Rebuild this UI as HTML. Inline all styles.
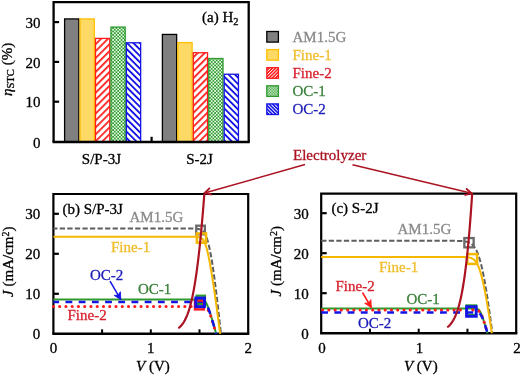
<!DOCTYPE html>
<html><head><meta charset="utf-8"><title>Figure</title>
<style>html,body{margin:0;padding:0;background:#fff;width:520px;height:376px;overflow:hidden} svg{display:block} text{stroke-width:0.3px}</style>
</head><body>
<svg width="520" height="376" viewBox="0 0 520 376">

<defs>
<pattern id="pr" patternUnits="userSpaceOnUse" width="4.9" height="4.9" patternTransform="rotate(45)">
 <rect width="4.9" height="4.9" fill="#fff"/><rect width="1.75" height="4.9" fill="#FF1A1A"/>
</pattern>
<pattern id="pb" patternUnits="userSpaceOnUse" width="4.5" height="4.5" patternTransform="rotate(-45)">
 <rect width="4.5" height="4.5" fill="#fff"/><rect width="1.85" height="4.5" fill="#1414E6"/>
</pattern>
<pattern id="pg" patternUnits="userSpaceOnUse" width="3.4" height="3.4">
 <rect width="3.4" height="3.4" fill="#e6fae6"/><rect width="1.7" height="1.7" fill="#2E9A2E"/><rect x="1.7" y="1.7" width="1.7" height="1.7" fill="#2E9A2E"/>
</pattern>
<pattern id="prl" patternUnits="userSpaceOnUse" width="2.3" height="2.3" patternTransform="rotate(45)">
 <rect width="2.3" height="2.3" fill="#FF1A1A"/><rect width="0.8" height="2.3" fill="#fff"/>
</pattern>
<pattern id="pbl" patternUnits="userSpaceOnUse" width="2.5" height="2.5" patternTransform="rotate(-45)">
 <rect width="2.5" height="2.5" fill="#1414E6"/><rect width="0.9" height="2.5" fill="#fff"/>
</pattern>
<pattern id="pgl" patternUnits="userSpaceOnUse" width="2.7" height="2.7">
 <rect width="2.7" height="2.7" fill="#e6fae6"/><rect width="1.35" height="1.35" fill="#2E9A2E"/><rect x="1.35" y="1.35" width="1.35" height="1.35" fill="#2E9A2E"/>
</pattern>
<marker id="ah" viewBox="-8 -5 9 10" refX="0" refY="0" markerWidth="9" markerHeight="10" orient="auto" markerUnits="userSpaceOnUse">
 <path d="M-6.5,-3.4 L0,0 L-6.5,3.4" fill="none" stroke="#AC1322" stroke-width="1.8" stroke-linejoin="miter"/>
</marker>
<marker id="ahb" viewBox="-8 -5 9 10" refX="0" refY="0" markerWidth="9" markerHeight="10" orient="auto" markerUnits="userSpaceOnUse">
 <path d="M-7,-3.6 L0,0 L-7,3.6 L-5.2,0 z" fill="#1414E6" stroke="#1414E6" stroke-width="0.8" stroke-linejoin="miter"/>
</marker>
<marker id="ahr" viewBox="-8 -5 9 10" refX="0" refY="0" markerWidth="9" markerHeight="10" orient="auto" markerUnits="userSpaceOnUse">
 <path d="M-7,-3.6 L0,0 L-7,3.6 L-5.2,0 z" fill="#FF1A1A" stroke="#FF1A1A" stroke-width="0.8" stroke-linejoin="miter"/>
</marker>
</defs>
<rect x="64.6" y="18.92" width="14.25" height="123.08" fill="#808080" stroke="#000" stroke-width="1.3"/>
<rect x="80.05" y="18.92" width="14.25" height="123.08" fill="#FFD966" stroke="#FFC000" stroke-width="1.3"/>
<rect x="95.5" y="38.42" width="14.25" height="103.58" fill="url(#pr)" stroke="#FF1A1A" stroke-width="1.3"/>
<rect x="110.95" y="27.08" width="14.25" height="114.92" fill="url(#pg)" stroke="#2E9A2E" stroke-width="1.3"/>
<rect x="126.4" y="42.8" width="14.25" height="99.2" fill="url(#pb)" stroke="#1414E6" stroke-width="1.3"/>
<rect x="162.4" y="34.44" width="14.25" height="107.56" fill="#808080" stroke="#000" stroke-width="1.3"/>
<rect x="177.85" y="42.6" width="14.25" height="99.4" fill="#FFD966" stroke="#FFC000" stroke-width="1.3"/>
<rect x="193.3" y="52.75" width="14.25" height="89.25" fill="url(#pr)" stroke="#FF1A1A" stroke-width="1.3"/>
<rect x="208.75" y="58.52" width="14.25" height="83.48" fill="url(#pg)" stroke="#2E9A2E" stroke-width="1.3"/>
<rect x="224.2" y="74.24" width="14.25" height="67.76" fill="url(#pb)" stroke="#1414E6" stroke-width="1.3"/>
<path d="M53.6,142.0 V2.1 H248.7 V142.0" fill="none" stroke="#000" stroke-width="2.3"/>
<path d="M52.5,142.0 H249.79999999999998" stroke="#000" stroke-width="2.4"/>
<path d="M53.6,101.7 h5.5" stroke="#000" stroke-width="2.2"/>
<path d="M53.6,61.9 h5.5" stroke="#000" stroke-width="2.2"/>
<path d="M53.6,22.1 h5.5" stroke="#000" stroke-width="2.2"/>
<path d="M151.6,142.0 v-5.2" stroke="#000" stroke-width="2.2"/>
<text x="40.4" y="147.6" text-anchor="end" style="font-family:'Liberation Serif','Times New Roman',serif;font-size:15px" stroke="#000">0</text>
<text x="40.4" y="107.4" text-anchor="end" style="font-family:'Liberation Serif','Times New Roman',serif;font-size:15px" stroke="#000">10</text>
<text x="40.4" y="67.6" text-anchor="end" style="font-family:'Liberation Serif','Times New Roman',serif;font-size:15px" stroke="#000">20</text>
<text x="40.4" y="27.8" text-anchor="end" style="font-family:'Liberation Serif','Times New Roman',serif;font-size:15px" stroke="#000">30</text>
<text x="101.4" y="164.4" text-anchor="middle" style="font-family:'Liberation Serif','Times New Roman',serif;font-size:15px" stroke="#000">S/P-3J</text>
<text x="199.5" y="164.4" text-anchor="middle" style="font-family:'Liberation Serif','Times New Roman',serif;font-size:15px" stroke="#000">S-2J</text>
<text x="202" y="21.6" style="font-family:'Liberation Serif','Times New Roman',serif;font-size:15px" stroke="#000">(a) H<tspan dy="3" font-size="10.5px">2</tspan></text>
<text transform="translate(11.6,96) rotate(-90)" style="font-family:'Liberation Serif','Times New Roman',serif;font-size:15px" stroke="#000"><tspan font-style="italic">η</tspan><tspan dy="2" font-size="10.6px">STC</tspan><tspan dy="-2"> (%)</tspan></text>
<rect x="266.8" y="31.5" width="11.6" height="10.6" fill="#808080" stroke="#000" stroke-width="1.3"/>
<text x="292.5" y="41.7" fill="#8a8a8a" style="font-family:'Liberation Serif','Times New Roman',serif;font-size:15px" stroke="#8a8a8a">AM1.5G</text>
<rect x="266.8" y="49.6" width="11.6" height="10.6" fill="#FFD966" stroke="#FFC000" stroke-width="1.3"/>
<text x="292.5" y="59.8" fill="#F0BC28" style="font-family:'Liberation Serif','Times New Roman',serif;font-size:15px" stroke="#F0BC28">Fine-1</text>
<rect x="266.8" y="67.7" width="11.6" height="10.6" fill="url(#prl)" stroke="#FF1A1A" stroke-width="1.3"/>
<text x="292.5" y="77.9" fill="#D81E2C" style="font-family:'Liberation Serif','Times New Roman',serif;font-size:15px" stroke="#D81E2C">Fine-2</text>
<rect x="266.8" y="85.8" width="11.6" height="10.6" fill="url(#pgl)" stroke="#2E9A2E" stroke-width="1.3"/>
<text x="292.5" y="96" fill="#3A803A" style="font-family:'Liberation Serif','Times New Roman',serif;font-size:15px" stroke="#3A803A">OC-1</text>
<rect x="266.8" y="103.9" width="11.6" height="10.6" fill="url(#pbl)" stroke="#1414E6" stroke-width="1.3"/>
<text x="292.5" y="114.1" fill="#1C1CB8" style="font-family:'Liberation Serif','Times New Roman',serif;font-size:15px" stroke="#1C1CB8">OC-2</text>
<text x="293" y="160" fill="#AC1322" style="font-family:'Liberation Serif','Times New Roman',serif;font-size:15px" stroke="#AC1322">Electrolyzer</text>
<clipPath id="clipb"><rect x="53.4" y="194.0" width="194.8" height="139.8"/></clipPath>
<path d="M53.4,333.8 V194.0 H248.2 V333.8" fill="none" stroke="#000" stroke-width="2.2"/>
<path d="M52.3,333.8 H249.29999999999998" stroke="#000" stroke-width="2.6"/>
<path d="M53.4,293.8 h5.5" stroke="#000" stroke-width="2.2"/>
<path d="M53.4,253.8 h5.5" stroke="#000" stroke-width="2.2"/>
<path d="M53.4,213.8 h5.5" stroke="#000" stroke-width="2.2"/>
<path d="M102.1,333.8 v-4.5" stroke="#000" stroke-width="2"/>
<path d="M150.8,333.8 v-4.5" stroke="#000" stroke-width="2"/>
<path d="M199.5,333.8 v-4.5" stroke="#000" stroke-width="2"/>
<path d="M53.4,228.4 L187.91,228.41 L188.12,228.41 L188.32,228.42 L188.53,228.42 L188.73,228.42 L188.94,228.42 L189.14,228.42 L189.35,228.42 L189.55,228.42 L189.76,228.43 L189.96,228.43 L190.17,228.43 L190.37,228.43 L190.58,228.43 L190.78,228.44 L190.99,228.44 L191.19,228.44 L191.39,228.45 L191.6,228.45 L191.8,228.45 L192.01,228.46 L192.21,228.46 L192.42,228.47 L192.62,228.47 L192.83,228.48 L193.03,228.48 L193.24,228.49 L193.44,228.5 L193.65,228.51 L193.85,228.51 L194.06,228.52 L194.27,228.53 L194.47,228.54 L194.68,228.55 L194.88,228.57 L195.09,228.58 L195.29,228.59 L195.5,228.61 L195.7,228.62 L195.91,228.64 L196.12,228.66 L196.32,228.68 L196.53,228.7 L196.74,228.73 L196.94,228.75 L197.15,228.78 L197.36,228.81 L197.56,228.84 L197.77,228.88 L197.98,228.91 L198.19,228.95 L198.39,229 L198.6,229.04 L198.81,229.09 L199.02,229.15 L199.23,229.2 L199.44,229.27 L199.65,229.33 L199.86,229.41 L200.07,229.49 L200.28,229.57 L200.49,229.66 L200.7,229.76 L200.92,229.87 L201.13,229.98 L201.35,230.1 L201.56,230.24 L201.78,230.38 L201.99,230.53 L202.21,230.7 L202.43,230.88 L202.65,231.07 L202.87,231.28 L203.09,231.5 L203.32,231.75 L203.54,232.01 L203.77,232.29 L204,232.59 L204.23,232.92 L204.46,233.27 L204.7,233.65 L204.94,234.06 L205.18,234.5 L205.42,234.97 L205.66,235.48 L205.91,236.04 L206.17,236.63 L206.42,237.27 L206.68,237.96 L206.95,238.71 L207.22,239.51 L207.49,240.37 L207.77,241.31 L208.05,242.31 L208.35,243.4 L208.64,244.56 L208.95,245.82 L209.26,247.18 L209.59,248.64 L209.92,250.22 L210.26,251.92 L210.61,253.75 L210.97,255.72 L211.35,257.85 L211.74,260.15 L212.14,262.62 L212.56,265.28 L212.99,268.16 L213.45,271.25 L213.92,274.59 L214.41,278.19 L214.93,282.07 L215.47,286.24 L216.04,290.75 L216.63,295.61 L217.26,300.84 L217.91,306.48 L218.61,312.56 L219.34,319.12 L220.11,326.18 L220.93,333.8" fill="none" stroke="#5e5e5e" stroke-width="2.0" stroke-dasharray="5.3,2.25" stroke-dashoffset="1.2" stroke-linecap="butt"/>
<path d="M53.4,236.8 L191.99,236.81 L192.14,236.81 L192.28,236.81 L192.43,236.81 L192.57,236.82 L192.72,236.82 L192.87,236.82 L193.01,236.82 L193.16,236.82 L193.31,236.82 L193.45,236.83 L193.6,236.83 L193.74,236.83 L193.89,236.83 L194.04,236.83 L194.18,236.84 L194.33,236.84 L194.48,236.84 L194.62,236.85 L194.77,236.85 L194.92,236.85 L195.06,236.86 L195.21,236.86 L195.36,236.87 L195.5,236.87 L195.65,236.88 L195.8,236.88 L195.94,236.89 L196.09,236.9 L196.24,236.91 L196.38,236.91 L196.53,236.92 L196.68,236.93 L196.82,236.94 L196.97,236.95 L197.12,236.97 L197.27,236.98 L197.41,236.99 L197.56,237.01 L197.71,237.02 L197.86,237.04 L198.01,237.06 L198.15,237.08 L198.3,237.1 L198.45,237.12 L198.6,237.15 L198.75,237.18 L198.9,237.21 L199.05,237.24 L199.2,237.27 L199.35,237.31 L199.5,237.35 L199.65,237.39 L199.8,237.44 L199.95,237.49 L200.1,237.54 L200.26,237.6 L200.41,237.66 L200.56,237.73 L200.72,237.8 L200.87,237.88 L201.03,237.96 L201.18,238.05 L201.34,238.15 L201.5,238.25 L201.66,238.37 L201.82,238.49 L201.98,238.62 L202.14,238.76 L202.3,238.92 L202.46,239.08 L202.63,239.26 L202.8,239.45 L202.97,239.66 L203.14,239.88 L203.31,240.12 L203.48,240.38 L203.66,240.66 L203.84,240.96 L204.02,241.28 L204.21,241.63 L204.39,242.01 L204.58,242.41 L204.78,242.85 L204.97,243.32 L205.18,243.83 L205.38,244.37 L205.59,244.96 L205.81,245.6 L206.03,246.28 L206.26,247.02 L206.49,247.82 L206.73,248.68 L206.98,249.6 L207.23,250.6 L207.5,251.68 L207.77,252.83 L208.05,254.08 L208.35,255.43 L208.65,256.88 L208.97,258.44 L209.3,260.13 L209.65,261.95 L210.01,263.9 L210.38,266.02 L210.78,268.29 L211.19,270.74 L211.63,273.39 L212.09,276.24 L212.57,279.31 L213.08,282.62 L213.62,286.19 L214.18,290.03 L214.78,294.18 L215.42,298.65 L216.09,303.47 L216.81,308.66 L217.57,314.26 L218.38,320.29 L219.23,326.79 L220.15,333.8" fill="none" stroke="#F5B800" stroke-width="2.0" stroke-linecap="butt"/>
<path d="M53.4,299.48 L198.16,299.48 L198.24,299.48 L198.32,299.48 L198.4,299.49 L198.48,299.49 L198.56,299.49 L198.64,299.49 L198.72,299.49 L198.8,299.49 L198.88,299.49 L198.96,299.49 L199.04,299.49 L199.12,299.49 L199.2,299.49 L199.28,299.49 L199.36,299.49 L199.44,299.49 L199.53,299.5 L199.61,299.5 L199.69,299.5 L199.77,299.5 L199.85,299.5 L199.93,299.5 L200.01,299.5 L200.09,299.51 L200.17,299.51 L200.25,299.51 L200.33,299.51 L200.41,299.51 L200.5,299.52 L200.58,299.52 L200.66,299.52 L200.74,299.53 L200.82,299.53 L200.9,299.53 L200.98,299.54 L201.06,299.54 L201.15,299.55 L201.23,299.55 L201.31,299.56 L201.39,299.57 L201.47,299.57 L201.55,299.58 L201.64,299.59 L201.72,299.59 L201.8,299.6 L201.88,299.61 L201.97,299.62 L202.05,299.64 L202.13,299.65 L202.22,299.66 L202.3,299.67 L202.39,299.69 L202.47,299.71 L202.55,299.72 L202.64,299.74 L202.72,299.76 L202.81,299.78 L202.9,299.81 L202.98,299.83 L203.07,299.86 L203.16,299.89 L203.25,299.92 L203.33,299.96 L203.42,299.99 L203.51,300.03 L203.6,300.08 L203.7,300.12 L203.79,300.17 L203.88,300.23 L203.98,300.29 L204.07,300.35 L204.17,300.42 L204.27,300.49 L204.37,300.57 L204.47,300.65 L204.57,300.75 L204.68,300.84 L204.78,300.95 L204.89,301.07 L205,301.19 L205.11,301.32 L205.23,301.47 L205.35,301.62 L205.47,301.79 L205.59,301.97 L205.72,302.16 L205.85,302.37 L205.99,302.59 L206.12,302.84 L206.27,303.1 L206.42,303.38 L206.57,303.68 L206.73,304.01 L206.9,304.36 L207.07,304.74 L207.25,305.15 L207.44,305.59 L207.64,306.07 L207.84,306.58 L208.06,307.14 L208.28,307.73 L208.52,308.38 L208.77,309.07 L209.03,309.82 L209.31,310.62 L209.6,311.49 L209.91,312.43 L210.23,313.43 L210.58,314.52 L210.94,315.69 L211.33,316.95 L211.74,318.32 L212.18,319.78 L212.64,321.36 L213.14,323.07 L213.67,324.9 L214.23,326.89 L214.83,329.02 L215.47,331.32 L216.16,333.8" fill="none" stroke="#2E9A2E" stroke-width="2.0" stroke-linecap="butt"/>
<path d="M53.4,306.48 L199.86,306.48 L199.94,306.48 L200.02,306.48 L200.1,306.48 L200.18,306.48 L200.26,306.48 L200.34,306.49 L200.42,306.49 L200.5,306.49 L200.59,306.49 L200.67,306.49 L200.75,306.49 L200.83,306.49 L200.91,306.49 L200.99,306.49 L201.07,306.49 L201.15,306.49 L201.23,306.49 L201.31,306.49 L201.39,306.49 L201.47,306.5 L201.55,306.5 L201.63,306.5 L201.71,306.5 L201.79,306.5 L201.87,306.5 L201.96,306.5 L202.04,306.51 L202.12,306.51 L202.2,306.51 L202.28,306.51 L202.36,306.51 L202.44,306.52 L202.52,306.52 L202.6,306.52 L202.68,306.53 L202.77,306.53 L202.85,306.53 L202.93,306.54 L203.01,306.54 L203.09,306.55 L203.17,306.55 L203.25,306.56 L203.34,306.56 L203.42,306.57 L203.5,306.58 L203.58,306.59 L203.66,306.59 L203.75,306.6 L203.83,306.61 L203.91,306.62 L204,306.63 L204.08,306.65 L204.16,306.66 L204.25,306.67 L204.33,306.69 L204.42,306.7 L204.5,306.72 L204.58,306.74 L204.67,306.76 L204.76,306.78 L204.84,306.81 L204.93,306.83 L205.02,306.86 L205.1,306.89 L205.19,306.92 L205.28,306.96 L205.37,306.99 L205.46,307.03 L205.55,307.08 L205.64,307.12 L205.73,307.17 L205.83,307.23 L205.92,307.28 L206.02,307.35 L206.11,307.41 L206.21,307.49 L206.31,307.57 L206.41,307.65 L206.52,307.74 L206.62,307.84 L206.73,307.95 L206.83,308.06 L206.94,308.18 L207.06,308.32 L207.17,308.46 L207.29,308.61 L207.41,308.78 L207.54,308.96 L207.66,309.15 L207.79,309.36 L207.93,309.58 L208.07,309.83 L208.21,310.09 L208.36,310.37 L208.51,310.67 L208.67,311 L208.84,311.35 L209.01,311.73 L209.19,312.14 L209.38,312.58 L209.58,313.05 L209.78,313.56 L210,314.11 L210.22,314.71 L210.46,315.35 L210.71,316.04 L210.97,316.78 L211.24,317.59 L211.53,318.45 L211.84,319.39 L212.17,320.39 L212.51,321.47 L212.88,322.64 L213.26,323.9 L213.67,325.26 L214.11,326.72 L214.57,328.3 L215.07,329.99 L215.59,331.83 L216.16,333.8" fill="none" stroke="#FF1A1A" stroke-width="3.1" stroke-dasharray="0.01,6.25" stroke-linecap="round"/>
<path d="M53.4,301.88 L198.74,301.88 L198.82,301.88 L198.9,301.88 L198.98,301.88 L199.06,301.89 L199.14,301.89 L199.22,301.89 L199.3,301.89 L199.38,301.89 L199.47,301.89 L199.55,301.89 L199.63,301.89 L199.71,301.89 L199.79,301.89 L199.87,301.89 L199.95,301.89 L200.03,301.89 L200.11,301.89 L200.19,301.9 L200.27,301.9 L200.35,301.9 L200.43,301.9 L200.51,301.9 L200.59,301.9 L200.67,301.9 L200.76,301.91 L200.84,301.91 L200.92,301.91 L201,301.91 L201.08,301.91 L201.16,301.92 L201.24,301.92 L201.32,301.92 L201.4,301.93 L201.48,301.93 L201.57,301.93 L201.65,301.94 L201.73,301.94 L201.81,301.95 L201.89,301.95 L201.97,301.96 L202.06,301.97 L202.14,301.97 L202.22,301.98 L202.3,301.99 L202.38,302 L202.47,302 L202.55,302.01 L202.63,302.02 L202.72,302.04 L202.8,302.05 L202.88,302.06 L202.97,302.07 L203.05,302.09 L203.13,302.11 L203.22,302.12 L203.3,302.14 L203.39,302.16 L203.48,302.19 L203.56,302.21 L203.65,302.23 L203.74,302.26 L203.82,302.29 L203.91,302.32 L204,302.36 L204.09,302.4 L204.18,302.44 L204.27,302.48 L204.36,302.53 L204.45,302.58 L204.55,302.63 L204.64,302.69 L204.74,302.75 L204.84,302.82 L204.93,302.89 L205.03,302.97 L205.13,303.06 L205.24,303.15 L205.34,303.25 L205.45,303.35 L205.56,303.47 L205.67,303.59 L205.78,303.73 L205.89,303.87 L206.01,304.03 L206.13,304.19 L206.26,304.37 L206.39,304.57 L206.52,304.78 L206.65,305 L206.79,305.24 L206.94,305.51 L207.08,305.79 L207.24,306.09 L207.4,306.42 L207.57,306.78 L207.74,307.16 L207.92,307.57 L208.11,308.01 L208.3,308.49 L208.51,309 L208.73,309.56 L208.95,310.15 L209.19,310.8 L209.44,311.49 L209.7,312.24 L209.98,313.05 L210.27,313.92 L210.58,314.86 L210.91,315.87 L211.25,316.96 L211.62,318.13 L212.01,319.4 L212.42,320.76 L212.86,322.23 L213.32,323.82 L213.82,325.53 L214.35,327.37 L214.91,329.35 L215.51,331.49 L216.16,333.8" fill="none" stroke="#1414E6" stroke-width="2.5" stroke-dasharray="6.8,6.4" stroke-dashoffset="1.1" stroke-linecap="butt"/>
<rect x="196.25" y="225.7" width="8.6" height="8.6" fill="none" stroke="#6a6a6a" stroke-width="2.3"/>
<rect x="196.85" y="233.45" width="9.2" height="9.2" fill="none" stroke="#F5B800" stroke-width="2.5"/>
<rect x="196.6" y="295.7" width="8.4" height="8.4" fill="none" stroke="#2E9A2E" stroke-width="2.2"/>
<rect x="194.95" y="300.6" width="8.8" height="8.8" fill="none" stroke="#FF1A1A" stroke-width="2.4"/>
<rect x="195.85" y="298.05" width="8.6" height="8.6" fill="none" stroke="#1414E6" stroke-width="3.0"/>
<path d="M179.1,327.7 L179.48,327.37 L179.85,327.02 L180.23,326.66 L180.6,326.27 L180.98,325.86 L181.35,325.43 L181.73,324.98 L182.11,324.5 L182.48,324 L182.86,323.47 L183.24,322.91 L183.62,322.32 L184,321.7 L184.38,321.04 L184.77,320.35 L185.15,319.63 L185.54,318.86 L185.92,318.05 L186.31,317.2 L186.7,316.3 L187.09,315.35 L187.48,314.36 L187.87,313.3 L188.27,312.2 L188.66,311.03 L189.06,309.79 L189.46,308.5 L189.86,307.13 L190.26,305.68 L190.67,304.16 L191.07,302.56 L191.48,300.87 L191.9,299.09 L192.31,297.21 L192.73,295.23 L193.15,293.14 L193.57,290.94 L194,288.62 L194.43,286.18 L194.86,283.6 L195.3,280.89 L195.74,278.02 L196.18,275.01 L196.63,271.82 L197.09,268.47 L197.55,264.94 L198.01,261.21 L198.48,257.28 L198.96,253.14 L199.44,248.78 L199.93,244.18 L200.42,239.33 L200.92,234.22 L201.43,228.83 L201.95,223.15 L202.47,217.17 L203,210.86 L203.55,204.2 L204.1,197.19 L204.66,189.8" fill="none" stroke="#AC1322" stroke-width="2.2" stroke-linecap="round" clip-path="url(#clipb)"/>
<text x="40.3" y="338.6" text-anchor="end" style="font-family:'Liberation Serif','Times New Roman',serif;font-size:15px" stroke="#000">0</text>
<text x="40.3" y="298.6" text-anchor="end" style="font-family:'Liberation Serif','Times New Roman',serif;font-size:15px" stroke="#000">10</text>
<text x="40.3" y="258.6" text-anchor="end" style="font-family:'Liberation Serif','Times New Roman',serif;font-size:15px" stroke="#000">20</text>
<text x="40.3" y="218.6" text-anchor="end" style="font-family:'Liberation Serif','Times New Roman',serif;font-size:15px" stroke="#000">30</text>
<text x="53.4" y="352.5" text-anchor="middle" style="font-family:'Liberation Serif','Times New Roman',serif;font-size:15px" stroke="#000">0</text>
<text x="150.8" y="352.5" text-anchor="middle" style="font-family:'Liberation Serif','Times New Roman',serif;font-size:15px" stroke="#000">1</text>
<text x="248.2" y="352.5" text-anchor="middle" style="font-family:'Liberation Serif','Times New Roman',serif;font-size:15px" stroke="#000">2</text>
<text x="152.92" y="371.2" text-anchor="middle" style="font-family:'Liberation Serif','Times New Roman',serif;font-size:15px" stroke="#000"><tspan font-style="italic">V</tspan> (V)</text>
<text transform="translate(13,261.7) rotate(-90)" text-anchor="middle" style="font-family:'Liberation Serif','Times New Roman',serif;font-size:15px" stroke="#000"><tspan font-style="italic">J</tspan> (mA/cm<tspan dy="-4" font-size="10px">2</tspan><tspan dy="4">)</tspan></text>
<text x="62.4" y="213.5" style="font-family:'Liberation Serif','Times New Roman',serif;font-size:15px" stroke="#000">(b) S/P-3J</text>
<text x="129.5" y="222" fill="#8a8a8a" style="font-family:'Liberation Serif','Times New Roman',serif;font-size:15px" stroke="#8a8a8a">AM1.5G</text>
<text x="111" y="251.5" fill="#F0BC28" style="font-family:'Liberation Serif','Times New Roman',serif;font-size:15px" stroke="#F0BC28">Fine-1</text>
<text x="90" y="279.5" fill="#1C1CB8" style="font-family:'Liberation Serif','Times New Roman',serif;font-size:15px" stroke="#1C1CB8">OC-2</text>
<text x="138" y="294" fill="#3A803A" style="font-family:'Liberation Serif','Times New Roman',serif;font-size:15px" stroke="#3A803A">OC-1</text>
<text x="67.5" y="320.2" fill="#D81E2C" style="font-family:'Liberation Serif','Times New Roman',serif;font-size:15px" stroke="#D81E2C">Fine-2</text>
<path d="M110,281.2 L120.8,299.6" stroke="#1414E6" stroke-width="1.5" marker-end="url(#ahb)"/>
<clipPath id="clipc"><rect x="321.2" y="193.7" width="195" height="139.5"/></clipPath>
<path d="M321.2,333.2 V193.7 H516.2 V333.2" fill="none" stroke="#000" stroke-width="2.2"/>
<path d="M320.09999999999997,333.2 H517.3000000000001" stroke="#000" stroke-width="2.6"/>
<path d="M321.2,293.2 h5.5" stroke="#000" stroke-width="2.2"/>
<path d="M321.2,253.2 h5.5" stroke="#000" stroke-width="2.2"/>
<path d="M321.2,213.2 h5.5" stroke="#000" stroke-width="2.2"/>
<path d="M369.95,333.2 v-4.5" stroke="#000" stroke-width="2"/>
<path d="M418.7,333.2 v-4.5" stroke="#000" stroke-width="2"/>
<path d="M467.45,333.2 v-4.5" stroke="#000" stroke-width="2"/>
<path d="M321.2,240.8 L449.33,240.81 L449.62,240.81 L449.92,240.81 L450.21,240.81 L450.5,240.82 L450.79,240.82 L451.09,240.82 L451.38,240.82 L451.67,240.82 L451.96,240.82 L452.26,240.82 L452.55,240.83 L452.84,240.83 L453.13,240.83 L453.43,240.83 L453.72,240.84 L454.01,240.84 L454.31,240.84 L454.6,240.84 L454.89,240.85 L455.18,240.85 L455.48,240.86 L455.77,240.86 L456.06,240.86 L456.36,240.87 L456.65,240.87 L456.94,240.88 L457.23,240.89 L457.53,240.89 L457.82,240.9 L458.11,240.91 L458.41,240.92 L458.7,240.93 L458.99,240.94 L459.29,240.95 L459.58,240.96 L459.87,240.97 L460.17,240.98 L460.46,241 L460.76,241.01 L461.05,241.03 L461.34,241.05 L461.64,241.07 L461.93,241.09 L462.23,241.11 L462.52,241.13 L462.82,241.16 L463.11,241.19 L463.41,241.22 L463.7,241.25 L464,241.28 L464.29,241.32 L464.59,241.36 L464.88,241.41 L465.18,241.45 L465.48,241.51 L465.77,241.56 L466.07,241.62 L466.37,241.68 L466.67,241.75 L466.97,241.83 L467.27,241.91 L467.57,241.99 L467.87,242.09 L468.17,242.19 L468.47,242.29 L468.77,242.41 L469.08,242.54 L469.38,242.67 L469.68,242.82 L469.99,242.97 L470.3,243.14 L470.61,243.32 L470.91,243.52 L471.22,243.73 L471.54,243.96 L471.85,244.21 L472.17,244.47 L472.48,244.76 L472.8,245.07 L473.12,245.4 L473.45,245.76 L473.77,246.14 L474.1,246.56 L474.43,247.01 L474.76,247.49 L475.1,248.01 L475.44,248.58 L475.78,249.18 L476.13,249.84 L476.49,250.54 L476.84,251.3 L477.2,252.11 L477.57,253 L477.95,253.95 L478.33,254.97 L478.71,256.07 L479.11,257.26 L479.51,258.55 L479.92,259.93 L480.34,261.42 L480.77,263.02 L481.21,264.75 L481.66,266.62 L482.12,268.63 L482.6,270.8 L483.09,273.13 L483.6,275.65 L484.12,278.37 L484.67,281.29 L485.23,284.45 L485.81,287.85 L486.42,291.51 L487.05,295.46 L487.7,299.72 L488.38,304.31 L489.1,309.25 L489.85,314.58 L490.63,320.33 L491.45,326.52 L492.31,333.2" fill="none" stroke="#5e5e5e" stroke-width="2.0" stroke-dasharray="5.3,2.25" stroke-linecap="butt"/>
<path d="M321.2,257 L457.14,257.01 L457.36,257.01 L457.58,257.01 L457.8,257.01 L458.02,257.01 L458.24,257.01 L458.46,257.01 L458.68,257.02 L458.9,257.02 L459.12,257.02 L459.34,257.02 L459.56,257.02 L459.78,257.02 L460,257.02 L460.22,257.03 L460.44,257.03 L460.66,257.03 L460.87,257.03 L461.09,257.04 L461.31,257.04 L461.53,257.04 L461.75,257.05 L461.97,257.05 L462.19,257.05 L462.41,257.06 L462.63,257.06 L462.85,257.07 L463.07,257.07 L463.29,257.08 L463.51,257.08 L463.73,257.09 L463.95,257.1 L464.17,257.1 L464.39,257.11 L464.61,257.12 L464.83,257.13 L465.05,257.14 L465.28,257.15 L465.5,257.16 L465.72,257.18 L465.94,257.19 L466.16,257.2 L466.38,257.22 L466.6,257.24 L466.82,257.25 L467.04,257.27 L467.27,257.3 L467.49,257.32 L467.71,257.34 L467.93,257.37 L468.15,257.4 L468.38,257.43 L468.6,257.46 L468.82,257.5 L469.05,257.54 L469.27,257.58 L469.5,257.63 L469.72,257.68 L469.95,257.73 L470.17,257.79 L470.4,257.85 L470.62,257.91 L470.85,257.98 L471.08,258.06 L471.31,258.14 L471.54,258.23 L471.77,258.33 L472,258.43 L472.23,258.54 L472.46,258.66 L472.69,258.79 L472.93,258.93 L473.17,259.08 L473.4,259.24 L473.64,259.42 L473.88,259.61 L474.12,259.81 L474.37,260.03 L474.61,260.27 L474.86,260.52 L475.11,260.79 L475.36,261.09 L475.61,261.41 L475.87,261.75 L476.13,262.12 L476.39,262.52 L476.66,262.95 L476.93,263.41 L477.21,263.91 L477.48,264.45 L477.77,265.03 L478.05,265.66 L478.35,266.33 L478.65,267.06 L478.95,267.84 L479.26,268.69 L479.58,269.6 L479.91,270.58 L480.25,271.63 L480.59,272.77 L480.94,274 L481.31,275.33 L481.68,276.75 L482.07,278.29 L482.47,279.95 L482.89,281.74 L483.32,283.67 L483.77,285.74 L484.23,287.98 L484.72,290.39 L485.22,292.99 L485.75,295.8 L486.3,298.82 L486.88,302.08 L487.48,305.59 L488.11,309.37 L488.78,313.45 L489.48,317.85 L490.22,322.59 L491,327.69 L491.83,333.2" fill="none" stroke="#F5B800" stroke-width="2.0" stroke-linecap="butt"/>
<path d="M321.2,308.4 L471.84,308.4 L471.92,308.4 L472,308.4 L472.08,308.4 L472.16,308.4 L472.24,308.4 L472.32,308.4 L472.4,308.41 L472.48,308.41 L472.56,308.41 L472.64,308.41 L472.72,308.41 L472.8,308.41 L472.89,308.41 L472.97,308.41 L473.05,308.41 L473.13,308.41 L473.21,308.41 L473.29,308.41 L473.37,308.41 L473.45,308.41 L473.53,308.41 L473.61,308.42 L473.69,308.42 L473.77,308.42 L473.85,308.42 L473.93,308.42 L474.01,308.42 L474.1,308.42 L474.18,308.43 L474.26,308.43 L474.34,308.43 L474.42,308.43 L474.5,308.44 L474.58,308.44 L474.66,308.44 L474.74,308.45 L474.83,308.45 L474.91,308.45 L474.99,308.46 L475.07,308.46 L475.15,308.47 L475.23,308.47 L475.32,308.48 L475.4,308.48 L475.48,308.49 L475.56,308.5 L475.64,308.5 L475.73,308.51 L475.81,308.52 L475.89,308.53 L475.97,308.54 L476.06,308.55 L476.14,308.56 L476.22,308.58 L476.31,308.59 L476.39,308.6 L476.48,308.62 L476.56,308.64 L476.65,308.66 L476.73,308.68 L476.82,308.7 L476.9,308.72 L476.99,308.75 L477.08,308.77 L477.16,308.8 L477.25,308.83 L477.34,308.87 L477.43,308.9 L477.52,308.94 L477.61,308.98 L477.7,309.03 L477.79,309.08 L477.89,309.13 L477.98,309.19 L478.08,309.25 L478.17,309.31 L478.27,309.39 L478.37,309.46 L478.47,309.55 L478.57,309.63 L478.68,309.73 L478.78,309.83 L478.89,309.95 L479,310.07 L479.11,310.2 L479.23,310.34 L479.34,310.49 L479.46,310.65 L479.59,310.83 L479.71,311.01 L479.84,311.22 L479.98,311.44 L480.12,311.67 L480.26,311.93 L480.41,312.2 L480.56,312.5 L480.72,312.82 L480.88,313.16 L481.05,313.53 L481.23,313.93 L481.42,314.36 L481.61,314.83 L481.81,315.33 L482.02,315.87 L482.25,316.45 L482.48,317.08 L482.72,317.75 L482.98,318.48 L483.25,319.27 L483.54,320.11 L483.84,321.03 L484.16,322.01 L484.5,323.07 L484.86,324.21 L485.24,325.44 L485.65,326.77 L486.08,328.2 L486.53,329.75 L487.02,331.41 L487.54,333.2" fill="none" stroke="#2E9A2E" stroke-width="2.0" stroke-linecap="butt"/>
<path d="M321.2,310 L472.23,310 L472.31,310 L472.39,310 L472.47,310 L472.55,310 L472.63,310 L472.71,310 L472.79,310 L472.87,310.01 L472.95,310.01 L473.03,310.01 L473.11,310.01 L473.19,310.01 L473.28,310.01 L473.36,310.01 L473.44,310.01 L473.52,310.01 L473.6,310.01 L473.68,310.01 L473.76,310.01 L473.84,310.01 L473.92,310.01 L474,310.01 L474.08,310.02 L474.16,310.02 L474.24,310.02 L474.32,310.02 L474.4,310.02 L474.49,310.02 L474.57,310.03 L474.65,310.03 L474.73,310.03 L474.81,310.03 L474.89,310.03 L474.97,310.04 L475.05,310.04 L475.13,310.04 L475.21,310.05 L475.3,310.05 L475.38,310.05 L475.46,310.06 L475.54,310.06 L475.62,310.07 L475.7,310.07 L475.79,310.08 L475.87,310.08 L475.95,310.09 L476.03,310.1 L476.11,310.1 L476.2,310.11 L476.28,310.12 L476.36,310.13 L476.44,310.14 L476.53,310.15 L476.61,310.16 L476.69,310.18 L476.78,310.19 L476.86,310.21 L476.95,310.22 L477.03,310.24 L477.12,310.26 L477.2,310.28 L477.29,310.3 L477.37,310.32 L477.46,310.35 L477.55,310.37 L477.63,310.4 L477.72,310.44 L477.81,310.47 L477.9,310.51 L477.99,310.55 L478.08,310.59 L478.17,310.63 L478.27,310.68 L478.36,310.74 L478.45,310.79 L478.55,310.86 L478.65,310.92 L478.74,310.99 L478.84,311.07 L478.94,311.16 L479.05,311.25 L479.15,311.34 L479.26,311.45 L479.36,311.56 L479.47,311.68 L479.59,311.81 L479.7,311.95 L479.82,312.1 L479.94,312.27 L480.06,312.45 L480.19,312.64 L480.32,312.84 L480.45,313.06 L480.59,313.3 L480.74,313.56 L480.88,313.83 L481.04,314.13 L481.2,314.46 L481.36,314.8 L481.53,315.18 L481.71,315.58 L481.9,316.01 L482.09,316.48 L482.3,316.99 L482.51,317.53 L482.73,318.12 L482.97,318.75 L483.21,319.43 L483.47,320.17 L483.75,320.96 L484.04,321.81 L484.34,322.73 L484.66,323.72 L485,324.79 L485.36,325.95 L485.75,327.19 L486.15,328.53 L486.59,329.97 L487.05,331.52 L487.54,333.2" fill="none" stroke="#FF1A1A" stroke-width="3.1" stroke-dasharray="0.01,6.25" stroke-dashoffset="-1.4" stroke-linecap="round"/>
<path d="M321.2,312.4 L472.81,312.4 L472.89,312.4 L472.97,312.4 L473.05,312.4 L473.14,312.4 L473.22,312.4 L473.3,312.4 L473.38,312.4 L473.46,312.4 L473.54,312.41 L473.62,312.41 L473.7,312.41 L473.78,312.41 L473.86,312.41 L473.94,312.41 L474.02,312.41 L474.1,312.41 L474.18,312.41 L474.26,312.41 L474.34,312.41 L474.42,312.41 L474.5,312.41 L474.59,312.41 L474.67,312.41 L474.75,312.42 L474.83,312.42 L474.91,312.42 L474.99,312.42 L475.07,312.42 L475.15,312.42 L475.23,312.42 L475.31,312.43 L475.39,312.43 L475.47,312.43 L475.56,312.43 L475.64,312.44 L475.72,312.44 L475.8,312.44 L475.88,312.44 L475.96,312.45 L476.04,312.45 L476.12,312.46 L476.21,312.46 L476.29,312.46 L476.37,312.47 L476.45,312.48 L476.53,312.48 L476.61,312.49 L476.7,312.49 L476.78,312.5 L476.86,312.51 L476.94,312.52 L477.03,312.53 L477.11,312.54 L477.19,312.55 L477.28,312.56 L477.36,312.57 L477.44,312.58 L477.53,312.6 L477.61,312.61 L477.7,312.63 L477.78,312.65 L477.87,312.67 L477.95,312.69 L478.04,312.71 L478.12,312.74 L478.21,312.76 L478.3,312.79 L478.38,312.82 L478.47,312.85 L478.56,312.89 L478.65,312.93 L478.74,312.97 L478.83,313.01 L478.93,313.06 L479.02,313.11 L479.11,313.17 L479.21,313.23 L479.3,313.29 L479.4,313.36 L479.5,313.44 L479.6,313.52 L479.7,313.6 L479.8,313.7 L479.91,313.8 L480.02,313.91 L480.13,314.02 L480.24,314.15 L480.35,314.29 L480.47,314.43 L480.59,314.59 L480.71,314.76 L480.83,314.95 L480.96,315.15 L481.09,315.36 L481.23,315.59 L481.37,315.84 L481.52,316.11 L481.67,316.39 L481.83,316.71 L481.99,317.04 L482.16,317.4 L482.33,317.79 L482.51,318.21 L482.71,318.66 L482.9,319.15 L483.11,319.68 L483.33,320.25 L483.56,320.86 L483.8,321.52 L484.06,322.23 L484.32,322.99 L484.6,323.82 L484.9,324.7 L485.22,325.66 L485.55,326.7 L485.9,327.81 L486.27,329.01 L486.67,330.3 L487.09,331.7 L487.54,333.2" fill="none" stroke="#1414E6" stroke-width="2.5" stroke-dasharray="6.8,6.4" stroke-linecap="butt"/>
<rect x="464.35" y="238.05" width="9.3" height="9.3" fill="none" stroke="#6a6a6a" stroke-width="2.3"/>
<rect x="467.3" y="254.1" width="9.8" height="9.8" fill="none" stroke="#F5B800" stroke-width="2.5"/>
<rect x="466.5" y="305.4" width="9.6" height="9.6" fill="none" stroke="#2E9A2E" stroke-width="2.2"/>
<rect x="466.6" y="306.7" width="9.6" height="9.6" fill="none" stroke="#1414E6" stroke-width="2.9"/>
<path d="M448,326.8 L448.38,326.46 L448.77,326.1 L449.15,325.72 L449.53,325.32 L449.92,324.9 L450.3,324.46 L450.69,324 L451.07,323.51 L451.46,322.99 L451.85,322.45 L452.23,321.87 L452.62,321.27 L453.01,320.64 L453.39,319.97 L453.78,319.26 L454.17,318.52 L454.56,317.74 L454.95,316.91 L455.34,316.05 L455.73,315.13 L456.12,314.17 L456.51,313.16 L456.91,312.09 L457.3,310.96 L457.69,309.78 L458.09,308.53 L458.48,307.22 L458.88,305.83 L459.28,304.38 L459.67,302.84 L460.07,301.23 L460.47,299.52 L460.88,297.73 L461.28,295.84 L461.68,293.85 L462.09,291.75 L462.49,289.55 L462.9,287.22 L463.31,284.77 L463.72,282.19 L464.13,279.48 L464.55,276.61 L464.96,273.6 L465.38,270.43 L465.8,267.08 L466.22,263.56 L466.65,259.85 L467.08,255.95 L467.51,251.83 L467.94,247.5 L468.37,242.93 L468.81,238.12 L469.25,233.06 L469.7,227.73 L470.14,222.11 L470.6,216.19 L471.05,209.96 L471.51,203.4 L471.98,196.48 L472.44,189.2" fill="none" stroke="#AC1322" stroke-width="2.2" stroke-linecap="round" clip-path="url(#clipc)"/>
<text x="308.8" y="339.2" text-anchor="end" style="font-family:'Liberation Serif','Times New Roman',serif;font-size:15px" stroke="#000">0</text>
<text x="308.8" y="299.2" text-anchor="end" style="font-family:'Liberation Serif','Times New Roman',serif;font-size:15px" stroke="#000">10</text>
<text x="308.8" y="259.2" text-anchor="end" style="font-family:'Liberation Serif','Times New Roman',serif;font-size:15px" stroke="#000">20</text>
<text x="308.8" y="219.2" text-anchor="end" style="font-family:'Liberation Serif','Times New Roman',serif;font-size:15px" stroke="#000">30</text>
<text x="321.9" y="352.5" text-anchor="middle" style="font-family:'Liberation Serif','Times New Roman',serif;font-size:15px" stroke="#000">0</text>
<text x="419.4" y="352.5" text-anchor="middle" style="font-family:'Liberation Serif','Times New Roman',serif;font-size:15px" stroke="#000">1</text>
<text x="516.9" y="352.5" text-anchor="middle" style="font-family:'Liberation Serif','Times New Roman',serif;font-size:15px" stroke="#000">2</text>
<text x="420.82" y="371.2" text-anchor="middle" style="font-family:'Liberation Serif','Times New Roman',serif;font-size:15px" stroke="#000"><tspan font-style="italic">V</tspan> (V)</text>
<text transform="translate(280.8,261.25) rotate(-90)" text-anchor="middle" style="font-family:'Liberation Serif','Times New Roman',serif;font-size:15px" stroke="#000"><tspan font-style="italic">J</tspan> (mA/cm<tspan dy="-4" font-size="10px">2</tspan><tspan dy="4">)</tspan></text>
<text x="331.4" y="212.6" style="font-family:'Liberation Serif','Times New Roman',serif;font-size:15px" stroke="#000">(c) S-2J</text>
<text x="397.5" y="233.7" fill="#8a8a8a" style="font-family:'Liberation Serif','Times New Roman',serif;font-size:15px" stroke="#8a8a8a">AM1.5G</text>
<text x="379" y="271.9" fill="#F0BC28" style="font-family:'Liberation Serif','Times New Roman',serif;font-size:15px" stroke="#F0BC28">Fine-1</text>
<text x="406.5" y="303.5" fill="#3A803A" style="font-family:'Liberation Serif','Times New Roman',serif;font-size:15px" stroke="#3A803A">OC-1</text>
<text x="335.5" y="291" fill="#D81E2C" style="font-family:'Liberation Serif','Times New Roman',serif;font-size:15px" stroke="#D81E2C">Fine-2</text>
<text x="358" y="327.6" fill="#1C1CB8" style="font-family:'Liberation Serif','Times New Roman',serif;font-size:15px" stroke="#1C1CB8">OC-2</text>
<path d="M362.5,292.5 L371.3,307.5" stroke="#FF1A1A" stroke-width="1.5" marker-end="url(#ahr)"/>
<path d="M305,164.5 L204.6,193" stroke="#AC1322" stroke-width="1.5" marker-end="url(#ah)"/>
<path d="M352.5,164.8 L471.6,193.3" stroke="#AC1322" stroke-width="1.5" marker-end="url(#ah)"/>
</svg>
</body></html>
